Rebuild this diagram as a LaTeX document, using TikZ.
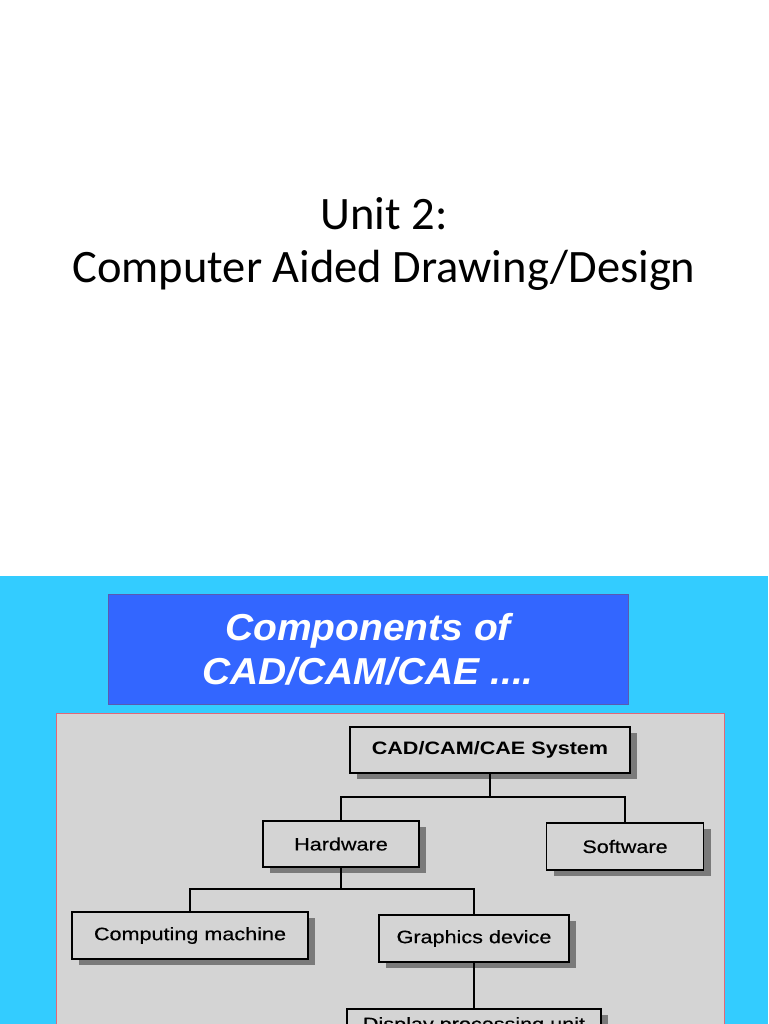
\documentclass[tikz,border=0pt]{standalone}
\usepackage{fontspec}
\setmainfont{Carlito}
\newfontfamily\boxfont[FakeStretch=1.2,FakeBold=0.4]{Liberation Sans}
\newfontfamily\boxboldfont[FakeStretch=1.2]{Liberation Sans Bold}
\newfontfamily\headfont[FakeStretch=1.04]{Liberation Sans}
\usetikzlibrary{shadows}
\definecolor{cyanbg}{HTML}{33CCFF}
\definecolor{bluehead}{HTML}{3366FF}
\definecolor{blueedge}{HTML}{5A5AB0}
\definecolor{panelgray}{HTML}{D4D4D4}
\definecolor{paneledge}{HTML}{E06878}
\definecolor{shadowgray}{HTML}{7A7A7A}
\tikzset{
  compbox/.style={draw=black, line width=1.6pt, fill=panelgray, inner sep=0pt,
    font=\boxfont\fontsize{18}{20}\selectfont,
    drop shadow={shadow xshift=7pt, shadow yshift=-6pt, fill=shadowgray, opacity=1}},
  conn/.style={draw=black, line width=1.6pt},
}
\begin{document}
\begin{tikzpicture}[x=1pt,y=-1pt]
\path[clip] (0,0) rectangle (768,1024);
\fill[white] (0,0) rectangle (768,576);
\fill[cyanbg] (0,576) rectangle (768,1024);
% title
\node[font=\fontsize{46.5}{50}\selectfont, inner sep=0pt] (t1) at (384,214) {Unit 2:};
\node[font=\fontsize{46.5}{50}\selectfont, inner sep=0pt] (t2) at (384,270) {Computer Aided Drawing/Design};
% blue header
\node[fill=bluehead, draw=blueedge, line width=1pt, minimum width=520pt, minimum height=110pt, inner sep=0pt,
  text=white, align=center, font=\headfont\bfseries\itshape\fontsize{37.5}{44}\selectfont] (head) at (368,649)
  {Components of\\CAD/CAM/CAE ....};
% gray panel
\draw[fill=panelgray, draw=paneledge, line width=1pt] (56,713) rectangle (724,1040);
% boxes
\node[compbox, minimum width=280pt, minimum height=46pt, font=\boxboldfont\fontsize{18}{20}\selectfont] (sys) at (490,750) {CAD/CAM/CAE System};
\node[compbox, minimum width=156pt, minimum height=46pt] (hw) at (341,844) {Hardware};
\node[compbox, minimum width=157pt, minimum height=47pt] (sw) at (625,846.5) {Software};
\node[compbox, minimum width=236pt, minimum height=47pt] (cm) at (190,935.5) {Computing machine};
\node[compbox, minimum width=190pt, minimum height=47pt] (gd) at (474,938.5) {Graphics device};
\node[compbox, minimum width=254pt, minimum height=33pt] (dp) at (474,1025.5) {Display processing unit};
% connectors
\coordinate (j1) at (0,797);
\coordinate (j2) at (0,889);
\draw[conn] (sys.south) -- (sys.south |- j1) -| (hw.north);
\draw[conn] (sys.south |- j1) -| (sw.north);
\draw[conn] (hw.south) -- (hw.south |- j2) -| (cm.north);
\draw[conn] (hw.south |- j2) -| (gd.north);
\draw[conn] (gd.south) -- (dp.north);
\end{tikzpicture}
\end{document}
